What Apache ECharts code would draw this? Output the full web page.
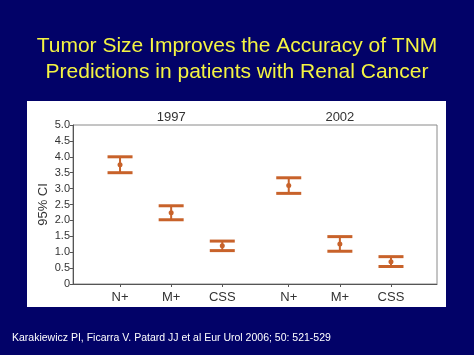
<!DOCTYPE html>
<html><head><meta charset="utf-8">
<script src="https://cdn.jsdelivr.net/npm/echarts@6/dist/echarts.min.js"></script>
<style>html,body{margin:0;padding:0;background:#020268;}#c{width:474px;height:355px;}</style>
</head><body><div id="c"></div>
<script>
const categories = ['N+','M+','CSS','N+','M+','CSS'];
const xPositions = [1, 2, 3, 4.3, 5.3, 6.3];
const years = ['1997','2002'];
const yearPositions = [2, 5.3];
const lower = [3.5, 2.02, 1.05, 2.85, 1.03, 0.55];
const middle = [3.75, 2.24, 1.2, 3.1, 1.26, 0.7];
const upper = [4.0, 2.46, 1.35, 3.34, 1.49, 0.86];
const yTicks = [0, 0.5, 1, 1.5, 2, 2.5, 3, 3.5, 4, 4.5, 5];

const chart = echarts.init(document.getElementById('c'));
const data = xPositions.map((x,i)=>[x, lower[i], middle[i], upper[i]]);
const color = '#c8622a';
const option = {
  backgroundColor: '#020268',
  animation: false,
  title: {
    text: 'Tumor Size Improves the Accuracy of TNM\nPredictions in patients with Renal Cancer',
    left: 'center', top: 28,
    textStyle: {color: '#f4f442', fontSize: 21, fontWeight: 'normal', fontFamily: 'Liberation Sans', lineHeight: 26}
  },
  graphic: [
    {type:'rect', shape:{x:27,y:101,width:419,height:206}, style:{fill:'#ffffff'}, z:-10},
    {type:'text', left: 12, top: 333, style:{text:'Karakiewicz PI, Ficarra V. Patard JJ et al Eur Urol 2006; 50: 521-529', fill:'#ffffff', font:'10.5px "Liberation Sans"'}}
  ],
  grid: {left: 73, top: 125, right: 37, bottom: 71, show: true, borderColor: '#8a8a8a', borderWidth: 1},
  xAxis: {
    type: 'value', min: 0.08, max: 7.2,
    splitLine: {show:false},
    axisLine: {show:true, lineStyle:{color:'#555'}},
    axisTick: {show:true, customValues: xPositions, length: 3, lineStyle:{color:'#555'}},
    axisLabel: {customValues: xPositions, color:'#333', fontSize: 13, fontFamily:'Liberation Sans', margin: 7,
      formatter: v => { const i = xPositions.findIndex(p=>Math.abs(p-v)<1e-6); return i>=0 ? categories[i] : ''; }}
  },
  yAxis: {
    type: 'value', min: 0, max: 5, interval: 0.5,
    name: '95% CI', nameLocation: 'middle', nameGap: 23, nameMoveOverlap: false,
    nameTextStyle: {color:'#333', fontSize: 13, fontFamily:'Liberation Sans'},
    splitLine: {show:false},
    axisLine: {show:true, lineStyle:{color:'#555'}},
    axisTick: {show:true, length: 3, lineStyle:{color:'#555'}},
    axisLabel: {color:'#333', fontSize: 11, fontFamily:'Liberation Sans', margin: 3,
      formatter: v => v===0 ? '0' : v.toFixed(1)}
  },
  series: [{
    type: 'custom',
    data: data,
    renderItem: function(params, api){
      const x = api.value(0);
      const lo = api.coord([x, api.value(1)]);
      const mid = api.coord([x, api.value(2)]);
      const hi = api.coord([x, api.value(3)]);
      const hw = 12.5;
      const st = {stroke: color, lineWidth: 3};
      return {type:'group', children:[
        {type:'line', shape:{x1:lo[0],y1:lo[1],x2:hi[0],y2:hi[1]}, style:{stroke:color, lineWidth:2}},
        {type:'line', shape:{x1:lo[0]-hw,y1:lo[1],x2:lo[0]+hw,y2:lo[1]}, style:st},
        {type:'line', shape:{x1:hi[0]-hw,y1:hi[1],x2:hi[0]+hw,y2:hi[1]}, style:st},
        {type:'circle', shape:{cx:mid[0],cy:mid[1],r:2.5}, style:{fill:color}}
      ]};
    }
  }]
};
chart.setOption(option);
const yearGraphics = years.map((y,i)=>{
  const p = chart.convertToPixel({gridIndex:0}, [yearPositions[i], 5]);
  return {type:'text', x: p[0], y: p[1]-1, style:{text:y, fill:'#333', font:'13px "Liberation Sans"', align:'center', verticalAlign:'bottom'}};
});
chart.setOption({graphic: option.graphic.concat(yearGraphics)});
</script></body></html>
